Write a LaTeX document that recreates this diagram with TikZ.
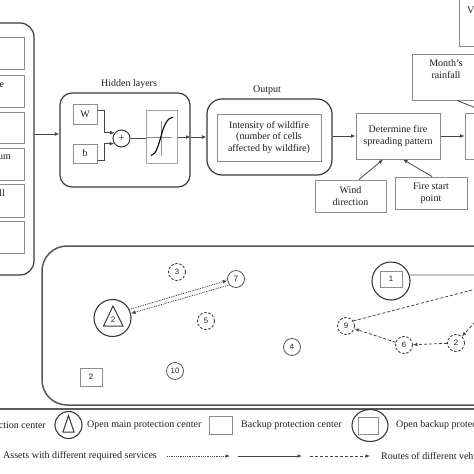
\documentclass[tikz,border=0pt]{standalone}
\usepackage{fontspec}
\setmainfont{Liberation Serif}
\newfontfamily\numfont{Liberation Sans}
\usetikzlibrary{arrows.meta,shapes.geometric}
\definecolor{ln}{HTML}{444444}
\definecolor{bx}{HTML}{8C8C8C}
\definecolor{ct}{HTML}{383838}
\definecolor{tx}{HTML}{1E1E1E}
\definecolor{mp}{HTML}{5A5A5A}
\begin{document}
\begin{tikzpicture}[x=1pt,y=-1pt,
  every node/.style={text=tx, font=\fontsize{10}{11.8}\selectfont},
  box/.style={draw=bx, line width=1pt, fill=white, inner sep=1pt, align=center},
  cont/.style={draw=ct, line width=1.2pt, rounded corners=12pt, inner sep=0pt},
  arr/.style={draw=ln, line width=0.8pt, -{Latex[length=4.5pt,width=3.8pt]}},
  plain/.style={draw=ln, line width=0.8pt},
  lbl/.style={inner sep=0pt, align=center},
  clipt/.style={inner sep=0pt, anchor=east},
  sc/.style={circle, draw=mp, line width=0.8pt, minimum size=17pt, inner sep=0pt, font=\numfont\fontsize{7.8}{8}\selectfont},
  dc/.style={sc, dash pattern=on 2.6pt off 1.6pt, draw=ct},
  dotarr/.style={draw=ln, line width=0.8pt, dash pattern=on 0.9pt off 0.9pt, -{Latex[length=4.5pt,width=3.8pt]}},
  dasharr/.style={draw=ln, line width=0.8pt, dash pattern=on 3pt off 2pt, -{Latex[length=4.5pt,width=3.8pt]}},
  dashln/.style={draw=ln, line width=0.8pt, dash pattern=on 3pt off 2pt},
  bigc/.style={circle, draw=ct, line width=1.1pt, inner sep=0pt}
]
\useasboundingbox (0,0) rectangle (474,474);

% ---------- left input column ----------
\node[cont, rounded corners=14pt, minimum width=54pt, minimum height=252pt] (left) at (7,149) {};
\node[box, minimum width=34pt, minimum height=32pt] (in1) at (7,53) {};
\node[box, minimum width=34pt, minimum height=32pt] (in2) at (7,91) {};
\node[box, minimum width=34pt, minimum height=31pt] (in3) at (7,127.5) {};
\node[box, minimum width=34pt, minimum height=32pt] (in4) at (7,164) {};
\node[box, minimum width=34pt, minimum height=33pt] (in5) at (7,200.5) {};
\node[box, minimum width=34pt, minimum height=32pt] (in6) at (7,237) {};
\node[clipt] (t2) at (4.3,85) {e};
\node[clipt] (t4) at (11,157) {um};
\node[clipt] (t5) at (5,193) {ll};

% ---------- hidden layers ----------
\node[cont, minimum width=130pt, minimum height=94pt] (hid) at (125,140) {};
\node[lbl] (hidl) at (129,84) {Hidden layers};
\node[box, minimum width=24pt, minimum height=20pt] (W) at (85,114) {W};
\node[box, minimum width=24pt, minimum height=19pt] (b) at (85,153.5) {b};
\node[circle, draw=ct, line width=1pt, minimum size=17pt, inner sep=0pt, font=\fontsize{11}{11}\selectfont] (sum) at (121.5,138.5) {+};
\node[box, draw=bx!80, minimum width=30.5pt, minimum height=53pt] (act) at (162,136.5) {};
\draw[draw=bx, line width=0.8pt] (act.west |- 0,137.5) -- (172,137.5);
\draw[draw=bx, line width=0.8pt] (161,121) -- (161,156);
\draw[black, line width=1.1pt] (151,155.5) .. controls (161.5,153) and (160,119) .. (173,117);

\draw[arr] ([yshift=4pt]W.east) -- ++(7,0) |- (sum.140);
\draw[arr] ([yshift=-7pt]b.east) -- ++(7,0) |- (sum.215);
\draw[plain] (sum.east) -- (sum.east -| act.west);
\draw[arr] ([yshift=6pt]hid.west -| left.east) -- ([yshift=6pt]hid.west);

% ---------- output ----------
\node[cont, rounded corners=15pt, minimum width=125pt, minimum height=76pt] (out) at (269.5,137) {};
\node[lbl] (outl) at (267,90) {Output};
\node[box, minimum width=104pt, minimum height=47pt] (int) at (269,137.5) {Intensity of wildfire\\(number of cells\\affected by wildfire)};
\draw[arr] ([yshift=-0.5pt]act.east) -- ([yshift=-0.5pt]act.east -| hid.east);
\draw[arr] ([yshift=-0.5pt]act.east -| hid.east) -- ([yshift=-0.5pt]act.east -| out.west);

% ---------- fire spreading ----------
\node[box, minimum width=84pt, minimum height=46pt] (det) at (398,136) {Determine fire\\spreading pattern};
\node[box, minimum width=45pt, minimum height=46pt] (R) at (487.5,136) {};
\node[box, minimum width=71pt, minimum height=32pt] (wind) at (350.5,196) {Wind\\direction};
\node[box, minimum width=72pt, minimum height=32pt] (fire) at (431,193) {Fire start\\point};
\node[box, minimum width=68pt, minimum height=46pt] (month) at (446,77) {};
\node[lbl] (montht) at (446,69) {Month’s\\[-0.5pt]rainfall};
\node[box, minimum width=60pt, minimum height=66pt] (veg) at (489,13) {};
\node[lbl, anchor=west] (vegt) at (467,10) {V};

\draw[arr] (out.east |- det.west) -- (det.west);
\draw[arr] (det.east) -- (R.west);
\draw[arr] ([xshift=8.5pt]wind.north) -- ([xshift=-15pt]det.south);
\draw[arr] ([xshift=1pt]fire.north) -- ([xshift=5pt]det.south);
\draw[arr] ([xshift=11pt]month.south) -- (R.north);

% ---------- map ----------
\node[cont, draw=ct!85, line width=1.5pt, rounded corners=25pt, minimum width=470pt, minimum height=159pt] (map) at (277,325.5) {};

\node[bigc, minimum size=37pt] (m2) at (112.5,318) {};
\draw[draw=ct, line width=1pt] (113,306) -- (103.5,326) -- (123,326) -- cycle;
\node[font=\numfont\fontsize{8}{8}\selectfont, inner sep=0pt] (m2t) at (113,319.5) {2};

\node[dc] (n3) at (177,272) {3};
\node[sc] (n7) at (236,279) {7};
\node[dc] (n5) at (206,321) {5};
\node[sc] (n10) at (175,371) {10};
\node[sc] (n4) at (292,347) {4};
\node[box, draw=bx, minimum width=22pt, minimum height=18pt, font=\numfont\fontsize{7.8}{8}\selectfont] (sq2) at (91,377) {2};

\node[bigc, minimum size=38pt] (m1) at (391,281) {};
\node[box, draw=bx, minimum width=22pt, minimum height=16pt, font=\numfont\fontsize{7.8}{8}\selectfont] (m1s) at (391,279) {1};

\node[dc] (n9) at (346,326) {9};
\node[dc] (n6) at (404,345) {6};
\node[dc] (n2b) at (456,343) {2};

\coordinate (ext1) at (495,275);
\coordinate (ext9) at (495,284);
\coordinate (ext2) at (485,311);

\draw[dotarr] (m2.27) -- (n7.190);
\draw[dotarr] (n7.222) -- (m2.14);
\draw[plain, draw=mp] (m1.18) -- (ext1);
\draw[dashln] (n9.35) -- (ext9);
\draw[dasharr] (ext2) -- (n2b);
\draw[dasharr] (n2b) -- (n6);
\draw[dasharr] (n6) -- (n9);

% ---------- legend ----------
\coordinate (lgA) at (-10,409);
\coordinate (lgB) at (490,409);
\draw[draw=mp, line width=1.3pt] (lgA) -- (lgB);

\node[lbl, anchor=east] (lg0) at (46,425.5) {ction center};
\node[bigc, minimum size=27pt] (lgc1) at (68.5,425) {};
\draw[draw=ct, line width=1pt] (68.5,415.5) -- (63,432) -- (74,432) -- cycle;
\node[lbl, anchor=west] (lg1) at (87,425) {Open main protection center};
\node[box, minimum width=23pt, minimum height=18pt] (lgs) at (220.5,425) {};
\node[lbl, anchor=west] (lg2) at (241,425.5) {Backup protection center};
\node[ellipse, draw=ct, line width=1.1pt, inner sep=0pt, minimum width=36pt, minimum height=32pt] (lgc2) at (370,425.5) {};
\node[box, minimum width=20pt, minimum height=17pt] (lgs2) at (368.5,425.5) {};
\node[lbl, anchor=west] (lg3) at (396,425) {Open backup protection center};

\node[lbl, anchor=west] (lg4) at (3,456) {Assets with different required services};
\coordinate (da1) at (167,456);
\coordinate (da2) at (230,456);
\coordinate (sa1) at (238,456);
\coordinate (sa2) at (302,456);
\coordinate (ka1) at (310,456);
\coordinate (ka2) at (370,456);
\draw[dotarr] (da1) -- (da2);
\draw[arr] (sa1) -- (sa2);
\draw[dasharr] (ka1) -- (ka2);
\node[lbl, anchor=west] (lg5) at (381,456) {Routes of different vehicles};
\end{tikzpicture}
\end{document}
